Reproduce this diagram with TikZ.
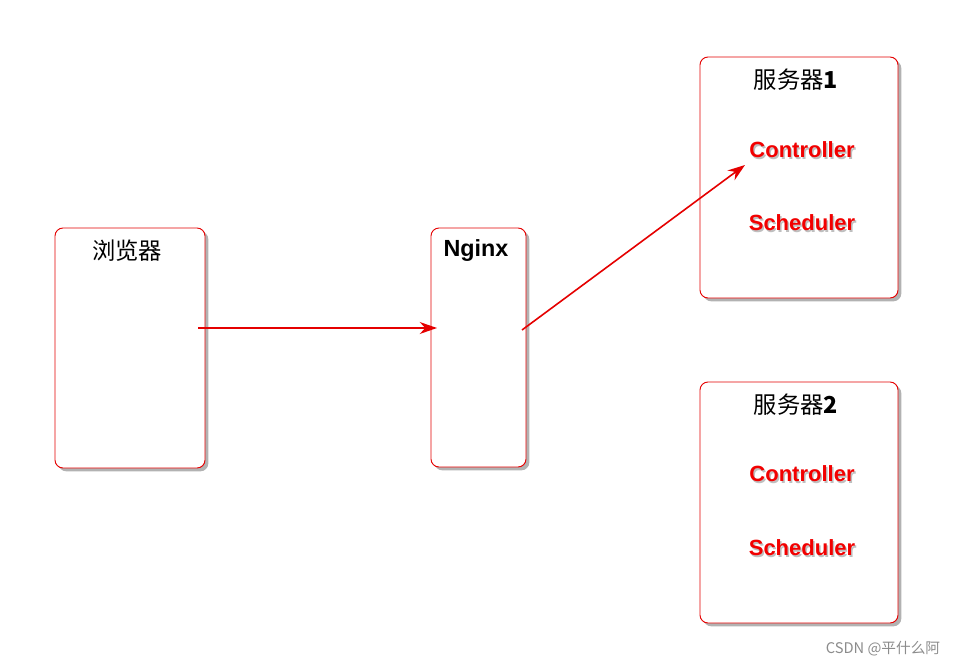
\documentclass[tikz,border=0pt]{standalone}
\usepackage{fontspec}
\setmainfont{Liberation Sans}
\newfontfamily\cjk{Noto Sans CJK SC}
\usetikzlibrary{arrows.meta,shadows}
\begin{document}
\begin{tikzpicture}[x=0.75pt,y=-0.75pt,
  box/.style={draw=red!90!black,line width=0.7pt,rounded corners=6pt,fill=white,
    drop shadow={shadow xshift=2.5pt,shadow yshift=-2.5pt,opacity=0.6,fill=gray}},
  ttl/.style={font=\fontsize{17.5}{17.5}\selectfont\bfseries,text=black},
  cttl/.style={font=\cjk\fontsize{17.5}{17.5}\selectfont,text=black},
  red lbl/.style={font=\fontsize{16.5}{16.5}\selectfont\bfseries,text=red!95!black},
  glow/.style={font=\fontsize{16.5}{16.5}\selectfont\bfseries,text=black!25},
  conn/.style={draw=red!90!black,line width=1.2pt,-{Stealth[length=13pt,width=9pt]}}]
\useasboundingbox[fill=white] (0,0) rectangle (967,667);
\path[box] (55,228) rectangle (205,468);
\path[box] (431,228) rectangle (526,467);
\path[box] (700,57) rectangle (898,298);
\path[box] (700,382) rectangle (898,623);
\node[cttl] (tb) at (127,251) {浏览器};
\node[ttl] (tn) at (476,251) {Nginx};
\node[cttl] (t1) at (796,80) {服务器\textbf{1}};
\node[cttl] (t2) at (796,405) {服务器\textbf{2}};
\foreach \n/\t/\y in {c1/Controller/150,s1/Scheduler/223,c2/Controller/474,s2/Scheduler/548}{
  \node[glow] at (803.5,\y+1.5) {\t};
  \node[red lbl] (\n) at (802,\y) {\t};
}
\coordinate (a1) at (198,328);
\coordinate (a2) at (437,328);
\coordinate (a3) at (522,330);
\coordinate (a4) at (745,165);
\draw[conn] (a1) -- (a2);
\draw[conn] (a3) -- (a4);
\node[font=\cjk\fontsize{11}{11}\selectfont,text=black!45] (wm) at (883,649) {CSDN @平什么阿};
\end{tikzpicture}
\end{document}
